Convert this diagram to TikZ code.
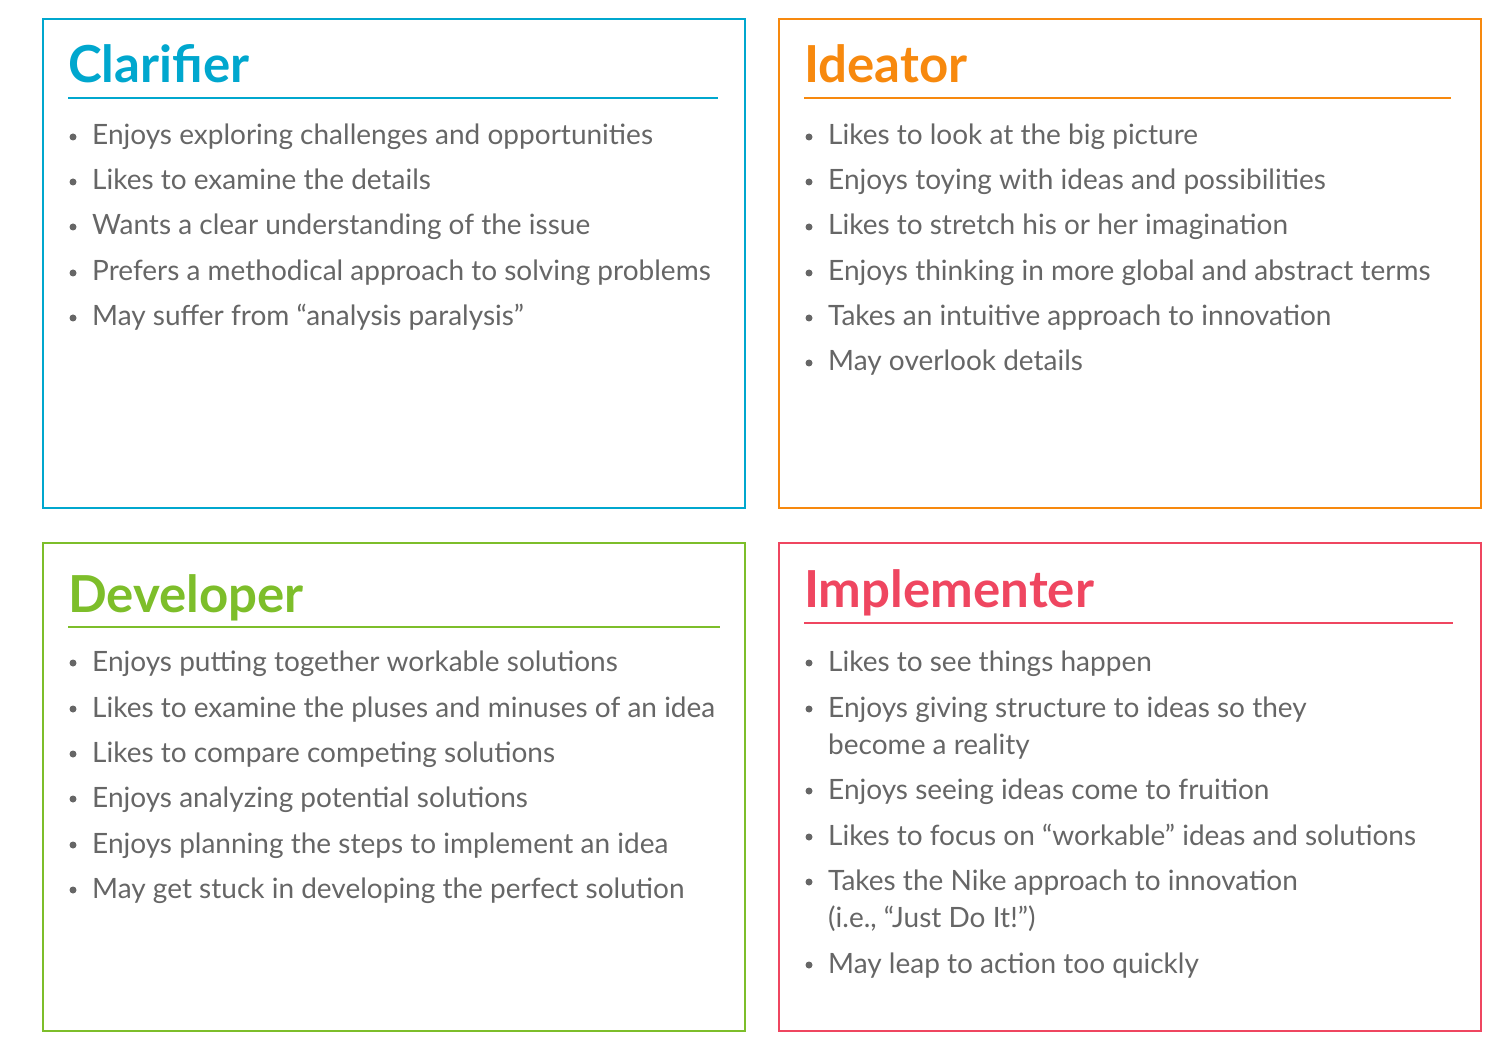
\documentclass[tikz,border=0pt]{standalone}
\usepackage{fontspec}
\setmainfont{Lato}
\definecolor{cC}{HTML}{00A7CE}
\definecolor{cI}{HTML}{F7890E}
\definecolor{cD}{HTML}{7DBE2A}
\definecolor{cM}{HTML}{EF4660}
\definecolor{txt}{HTML}{666666}
\tikzset{
 box/.style={draw=#1,line width=2.8pt},
 ttl/.style={anchor=base west,inner sep=0,text=#1,font=\fontsize{51}{55}\selectfont\bfseries},
 itm/.style={anchor=base west,inner sep=0,text=txt,font=\fontsize{28}{32}\selectfont},
 dot/.style={circle,fill=txt,inner sep=0,minimum size=7pt}
}
\begin{document}
\begin{tikzpicture}[x=1pt,y=-1pt]
\useasboundingbox (0,0) rectangle (1510,1064);
\draw[box=cC] (43,19) rectangle (745,508);
\draw[box=cI] (779,19) rectangle (1481,508);
\draw[box=cD] (43,543) rectangle (745,1031);
\draw[box=cM] (779,543) rectangle (1481,1031);
\node[ttl=cC] (tC) at (68,83) {Clarifier};
\node[ttl=cI] (tI) at (804,83) {Ideator};
\node[ttl=cD] (tD) at (68,612) {Developer};
\node[ttl=cM] (tM) at (804,607) {Implementer};
\draw[cC,line width=1.3pt] (68,98) -- (718,98);
\draw[cI,line width=1.3pt] (804,98) -- (1451,98);
\draw[cD,line width=1.3pt] (68,627) -- (720,627);
\draw[cM,line width=1.3pt] (804,623) -- (1453,623);
\newcommand{\itm}[4]{\node[dot] (d#1) at (#2-19,#3-8) {};\node[itm] (i#1) at (#2,#3) {#4};}
\newcommand{\cnt}[4]{\node[itm] (i#1) at (#2,#3) {#4};}
\itm{c1}{92}{145}{Enjoys exploring challenges and opportunities}
\itm{c2}{92}{190}{Likes to examine the details}
\itm{c3}{92}{235}{Wants a clear understanding of the issue}
\itm{c4}{92}{281}{Prefers a methodical approach to solving problems}
\itm{c5}{92}{326}{May suffer from “analysis paralysis”}
\itm{a1}{828}{145}{Likes to look at the big picture}
\itm{a2}{828}{190}{Enjoys toying with ideas and possibilities}
\itm{a3}{828}{235}{Likes to stretch his or her imagination}
\itm{a4}{828}{281}{Enjoys thinking in more global and abstract terms}
\itm{a5}{828}{326}{Takes an intuitive approach to innovation}
\itm{a6}{828}{371}{May overlook details}
\itm{d1}{92}{671}{Enjoys putting together workable solutions}
\itm{d2}{92}{717}{Likes to examine the pluses and minuses of an idea}
\itm{d3}{92}{762}{Likes to compare competing solutions}
\itm{d4}{92}{807}{Enjoys analyzing potential solutions}
\itm{d5}{92}{853}{Enjoys planning the steps to implement an idea}
\itm{d6}{92}{898}{May get stuck in developing the perfect solution}
\itm{m1}{828}{671}{Likes to see things happen}
\itm{m2}{828}{717}{Enjoys giving structure to ideas so they}
\cnt{m2b}{828}{754}{become a reality}
\itm{m3}{828}{799}{Enjoys seeing ideas come to fruition}
\itm{m4}{828}{845}{Likes to focus on “workable” ideas and solutions}
\itm{m5}{828}{890}{Takes the Nike approach to innovation}
\cnt{m5b}{828}{927}{(i.e., “Just Do It!”)}
\itm{m6}{828}{973}{May leap to action too quickly}
\end{tikzpicture}
\end{document}
